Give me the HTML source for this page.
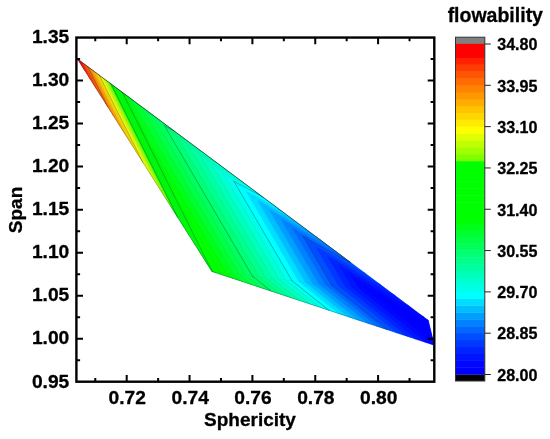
<!DOCTYPE html>
<html><head><meta charset="utf-8"><title>flowability contour</title>
<style>html,body{margin:0;padding:0;background:#fff}svg{display:block}</style></head>
<body><svg width="550" height="439" viewBox="0 0 550 439">
<rect width="550" height="439" fill="#fff"/>
<g><polygon points="77.50,59.00 127.90,96.50 428.30,320.40 434.40,345.30 211.90,271.40" fill="#0060ff"/>
<polygon points="151.23,145.08 127.90,96.50 126.31,95.31" fill="#00ff17" stroke="#00ff17" stroke-width="0.5"/>
<polygon points="179.57,204.08 151.23,145.08 126.31,95.31 124.37,93.87" fill="#00ff00" stroke="#00ff00" stroke-width="0.5"/>
<polygon points="207.90,263.07 179.57,204.08 124.37,93.87 122.44,92.43" fill="#00ff00" stroke="#00ff00" stroke-width="0.5"/>
<polygon points="206.90,263.50 211.90,271.40 207.90,263.07 122.44,92.43 120.50,91.00" fill="#00ff00" stroke="#00ff00" stroke-width="0.5"/>
<polygon points="201.08,254.30 206.90,263.50 120.50,91.00 118.57,89.56" fill="#00ff00" stroke="#00ff00" stroke-width="0.5"/>
<polygon points="195.25,245.09 201.08,254.30 118.57,89.56 116.63,88.12" fill="#00ff00" stroke="#00ff00" stroke-width="0.5"/>
<polygon points="189.43,235.89 195.25,245.09 116.63,88.12 114.70,86.68" fill="#00ff00" stroke="#00ff00" stroke-width="0.5"/>
<polygon points="183.61,226.69 189.43,235.89 114.70,86.68 112.76,85.24" fill="#00ff00" stroke="#00ff00" stroke-width="0.5"/>
<polygon points="177.79,217.49 183.61,226.69 112.76,85.24 110.83,83.80" fill="#00ff00" stroke="#00ff00" stroke-width="0.5"/>
<polygon points="171.96,208.29 177.79,217.49 110.83,83.80 108.89,82.36" fill="#00ff00" stroke="#00ff00" stroke-width="0.5"/>
<polygon points="166.14,199.08 171.96,208.29 108.89,82.36 106.96,80.92" fill="#80ff00" stroke="#80ff00" stroke-width="0.5"/>
<polygon points="160.32,189.88 166.14,199.08 106.96,80.92 105.02,79.48" fill="#a0ff00" stroke="#a0ff00" stroke-width="0.5"/>
<polygon points="154.50,180.68 160.32,189.88 105.02,79.48 103.09,78.04" fill="#c0ff00" stroke="#c0ff00" stroke-width="0.5"/>
<polygon points="148.67,171.48 154.50,180.68 103.09,78.04 101.15,76.60" fill="#e0ff00" stroke="#e0ff00" stroke-width="0.5"/>
<polygon points="142.85,162.28 148.67,171.48 101.15,76.60 99.22,75.16" fill="#ffff00" stroke="#ffff00" stroke-width="0.5"/>
<polygon points="137.03,153.08 142.85,162.28 99.22,75.16 97.28,73.72" fill="#ffeb00" stroke="#ffeb00" stroke-width="0.5"/>
<polygon points="131.21,143.87 137.03,153.08 97.28,73.72 95.35,72.28" fill="#ffd700" stroke="#ffd700" stroke-width="0.5"/>
<polygon points="125.38,134.67 131.21,143.87 95.35,72.28 93.41,70.84" fill="#ffc300" stroke="#ffc300" stroke-width="0.5"/>
<polygon points="119.56,125.47 125.38,134.67 93.41,70.84 91.48,69.40" fill="#ffae00" stroke="#ffae00" stroke-width="0.5"/>
<polygon points="113.74,116.27 119.56,125.47 91.48,69.40 89.54,67.96" fill="#ff9800" stroke="#ff9800" stroke-width="0.5"/>
<polygon points="107.91,107.07 113.74,116.27 89.54,67.96 87.61,66.52" fill="#ff8200" stroke="#ff8200" stroke-width="0.5"/>
<polygon points="102.09,97.86 107.91,107.07 87.61,66.52 85.67,65.08" fill="#ff6c00" stroke="#ff6c00" stroke-width="0.5"/>
<polygon points="96.27,88.66 102.09,97.86 85.67,65.08 83.74,63.64" fill="#ff5500" stroke="#ff5500" stroke-width="0.5"/>
<polygon points="90.45,79.46 96.27,88.66 83.74,63.64 81.80,62.20" fill="#ff3c00" stroke="#ff3c00" stroke-width="0.5"/>
<polygon points="84.62,70.26 90.45,79.46 81.80,62.20 79.87,60.76" fill="#ff2100" stroke="#ff2100" stroke-width="0.5"/>
<polygon points="78.80,61.06 84.62,70.26 79.87,60.76 77.93,59.32" fill="#ff0000" stroke="#ff0000" stroke-width="0.5"/>
<polygon points="77.50,59.00 78.80,61.06 77.93,59.32" fill="#ff0000" stroke="#ff0000" stroke-width="0.5"/>
<polygon points="364.79,289.39 370.00,290.00 360.90,282.72" fill="#0000ff" stroke="#0000ff" stroke-width="0.5"/>
<polygon points="358.19,288.61 364.79,289.39 360.90,282.72 349.35,273.49" fill="#0007ff" stroke="#0007ff" stroke-width="0.5"/>
<polygon points="351.58,287.83 358.19,288.61 349.35,273.49 337.80,264.27" fill="#0014ff" stroke="#0014ff" stroke-width="0.5"/>
<polygon points="344.97,287.06 351.58,287.83 337.80,264.27 326.25,255.04" fill="#0024ff" stroke="#0024ff" stroke-width="0.5"/>
<polygon points="338.36,286.28 344.97,287.06 326.25,255.04 314.71,245.81" fill="#0038ff" stroke="#0038ff" stroke-width="0.5"/>
<polygon points="331.76,285.50 338.36,286.28 314.71,245.81 303.16,236.58" fill="#004eff" stroke="#004eff" stroke-width="0.5"/>
<polygon points="325.15,284.72 331.76,285.50 303.16,236.58 291.61,227.35" fill="#0067ff" stroke="#0067ff" stroke-width="0.5"/>
<polygon points="318.54,283.95 325.15,284.72 291.61,227.35 280.06,218.12" fill="#0081ff" stroke="#0081ff" stroke-width="0.5"/>
<polygon points="311.94,283.17 318.54,283.95 280.06,218.12 268.51,208.89" fill="#009eff" stroke="#009eff" stroke-width="0.5"/>
<polygon points="305.33,282.39 311.94,283.17 268.51,208.89 256.97,199.66" fill="#00bdff" stroke="#00bdff" stroke-width="0.5"/>
<polygon points="298.72,281.61 305.33,282.39 256.97,199.66 245.42,190.43" fill="#00ddff" stroke="#00ddff" stroke-width="0.5"/>
<polygon points="292.12,280.84 298.72,281.61 245.42,190.43 233.87,181.20" fill="#00ffff" stroke="#00ffff" stroke-width="0.5"/>
<polygon points="285.51,280.06 292.12,280.84 233.87,181.20 222.32,171.97" fill="#00ffe8" stroke="#00ffe8" stroke-width="0.5"/>
<polygon points="278.90,279.28 285.51,280.06 222.32,171.97 210.77,162.74" fill="#00ffd1" stroke="#00ffd1" stroke-width="0.5"/>
<polygon points="272.30,278.51 278.90,279.28 210.77,162.74 199.23,153.51" fill="#00ffb9" stroke="#00ffb9" stroke-width="0.5"/>
<polygon points="265.69,277.73 272.30,278.51 199.23,153.51 187.68,144.28" fill="#00ffa2" stroke="#00ffa2" stroke-width="0.5"/>
<polygon points="259.08,276.95 265.69,277.73 187.68,144.28 176.13,135.05" fill="#00ff8b" stroke="#00ff8b" stroke-width="0.5"/>
<polygon points="252.47,276.17 259.08,276.95 176.13,135.05 164.58,125.82" fill="#00ff74" stroke="#00ff74" stroke-width="0.5"/>
<polygon points="245.87,275.40 252.47,276.17 164.58,125.82 153.03,116.59" fill="#00ff5d" stroke="#00ff5d" stroke-width="0.5"/>
<polygon points="239.26,274.62 245.87,275.40 153.03,116.59 141.49,107.36" fill="#00ff46" stroke="#00ff46" stroke-width="0.5"/>
<polygon points="232.65,273.84 239.26,274.62 141.49,107.36 129.94,98.13" fill="#00ff2e" stroke="#00ff2e" stroke-width="0.5"/>
<polygon points="127.90,96.50 151.23,145.08 226.05,273.06 232.65,273.84 129.94,98.13" fill="#00ff17" stroke="#00ff17" stroke-width="0.5"/>
<polygon points="151.23,145.08 179.57,204.08 219.44,272.29 226.05,273.06" fill="#00ff00" stroke="#00ff00" stroke-width="0.5"/>
<polygon points="179.57,204.08 207.90,263.07 212.83,271.51 219.44,272.29" fill="#00ff00" stroke="#00ff00" stroke-width="0.5"/>
<polygon points="207.90,263.07 211.90,271.40 212.83,271.51" fill="#00ff00" stroke="#00ff00" stroke-width="0.5"/>
<polygon points="360.90,282.72 370.00,290.00 428.30,320.40 423.98,317.18" fill="#0000ff" stroke="#0000ff" stroke-width="0.5"/>
<polygon points="349.35,273.49 360.90,282.72 423.98,317.18 409.31,306.25" fill="#0007ff" stroke="#0007ff" stroke-width="0.5"/>
<polygon points="337.80,264.27 349.35,273.49 409.31,306.25 394.63,295.31" fill="#0014ff" stroke="#0014ff" stroke-width="0.5"/>
<polygon points="326.25,255.04 337.80,264.27 394.63,295.31 379.96,284.37" fill="#0024ff" stroke="#0024ff" stroke-width="0.5"/>
<polygon points="314.71,245.81 326.25,255.04 379.96,284.37 365.29,273.43" fill="#0038ff" stroke="#0038ff" stroke-width="0.5"/>
<polygon points="303.16,236.58 314.71,245.81 365.29,273.43 350.61,262.49" fill="#004eff" stroke="#004eff" stroke-width="0.5"/>
<polygon points="291.61,227.35 303.16,236.58 350.61,262.49 335.94,251.56" fill="#0067ff" stroke="#0067ff" stroke-width="0.5"/>
<polygon points="280.06,218.12 291.61,227.35 335.94,251.56 321.26,240.62" fill="#0081ff" stroke="#0081ff" stroke-width="0.5"/>
<polygon points="268.51,208.89 280.06,218.12 321.26,240.62 306.59,229.68" fill="#009eff" stroke="#009eff" stroke-width="0.5"/>
<polygon points="256.97,199.66 268.51,208.89 306.59,229.68 291.91,218.74" fill="#00bdff" stroke="#00bdff" stroke-width="0.5"/>
<polygon points="245.42,190.43 256.97,199.66 291.91,218.74 277.24,207.81" fill="#00ddff" stroke="#00ddff" stroke-width="0.5"/>
<polygon points="233.87,181.20 245.42,190.43 277.24,207.81 262.56,196.87" fill="#00ffff" stroke="#00ffff" stroke-width="0.5"/>
<polygon points="222.32,171.97 233.87,181.20 262.56,196.87 247.89,185.93" fill="#00ffe8" stroke="#00ffe8" stroke-width="0.5"/>
<polygon points="210.77,162.74 222.32,171.97 247.89,185.93 233.21,174.99" fill="#00ffd1" stroke="#00ffd1" stroke-width="0.5"/>
<polygon points="199.23,153.51 210.77,162.74 233.21,174.99 218.54,164.06" fill="#00ffb9" stroke="#00ffb9" stroke-width="0.5"/>
<polygon points="187.68,144.28 199.23,153.51 218.54,164.06 203.86,153.12" fill="#00ffa2" stroke="#00ffa2" stroke-width="0.5"/>
<polygon points="176.13,135.05 187.68,144.28 203.86,153.12 189.19,142.18" fill="#00ff8b" stroke="#00ff8b" stroke-width="0.5"/>
<polygon points="164.58,125.82 176.13,135.05 189.19,142.18 174.51,131.24" fill="#00ff74" stroke="#00ff74" stroke-width="0.5"/>
<polygon points="153.03,116.59 164.58,125.82 174.51,131.24 159.84,120.31" fill="#00ff5d" stroke="#00ff5d" stroke-width="0.5"/>
<polygon points="141.49,107.36 153.03,116.59 159.84,120.31 145.16,109.37" fill="#00ff46" stroke="#00ff46" stroke-width="0.5"/>
<polygon points="129.94,98.13 141.49,107.36 145.16,109.37 130.49,98.43" fill="#00ff2e" stroke="#00ff2e" stroke-width="0.5"/>
<polygon points="127.90,96.50 129.94,98.13 130.49,98.43" fill="#00ff17" stroke="#00ff17" stroke-width="0.5"/>
<polygon points="429.93,341.46 370.00,290.00 364.79,289.39" fill="#0000ff" stroke="#0000ff" stroke-width="0.5"/>
<polygon points="425.33,342.29 434.40,345.30 429.93,341.46 364.79,289.39 358.19,288.61" fill="#0007ff" stroke="#0007ff" stroke-width="0.5"/>
<polygon points="415.69,339.09 425.33,342.29 358.19,288.61 351.58,287.83" fill="#0014ff" stroke="#0014ff" stroke-width="0.5"/>
<polygon points="406.05,335.88 415.69,339.09 351.58,287.83 344.97,287.06" fill="#0024ff" stroke="#0024ff" stroke-width="0.5"/>
<polygon points="396.41,332.68 406.05,335.88 344.97,287.06 338.36,286.28" fill="#0038ff" stroke="#0038ff" stroke-width="0.5"/>
<polygon points="386.77,329.48 396.41,332.68 338.36,286.28 331.76,285.50" fill="#004eff" stroke="#004eff" stroke-width="0.5"/>
<polygon points="377.13,326.28 386.77,329.48 331.76,285.50 325.15,284.72" fill="#0067ff" stroke="#0067ff" stroke-width="0.5"/>
<polygon points="367.49,323.08 377.13,326.28 325.15,284.72 318.54,283.95" fill="#0081ff" stroke="#0081ff" stroke-width="0.5"/>
<polygon points="357.85,319.88 367.49,323.08 318.54,283.95 311.94,283.17" fill="#009eff" stroke="#009eff" stroke-width="0.5"/>
<polygon points="348.21,316.67 357.85,319.88 311.94,283.17 305.33,282.39" fill="#00bdff" stroke="#00bdff" stroke-width="0.5"/>
<polygon points="338.57,313.47 348.21,316.67 305.33,282.39 298.72,281.61" fill="#00ddff" stroke="#00ddff" stroke-width="0.5"/>
<polygon points="328.93,310.27 338.57,313.47 298.72,281.61 292.12,280.84" fill="#00ffff" stroke="#00ffff" stroke-width="0.5"/>
<polygon points="319.29,307.07 328.93,310.27 292.12,280.84 285.51,280.06" fill="#00ffe8" stroke="#00ffe8" stroke-width="0.5"/>
<polygon points="309.65,303.87 319.29,307.07 285.51,280.06 278.90,279.28" fill="#00ffd1" stroke="#00ffd1" stroke-width="0.5"/>
<polygon points="300.02,300.67 309.65,303.87 278.90,279.28 272.30,278.51" fill="#00ffb9" stroke="#00ffb9" stroke-width="0.5"/>
<polygon points="290.38,297.46 300.02,300.67 272.30,278.51 265.69,277.73" fill="#00ffa2" stroke="#00ffa2" stroke-width="0.5"/>
<polygon points="280.74,294.26 290.38,297.46 265.69,277.73 259.08,276.95" fill="#00ff8b" stroke="#00ff8b" stroke-width="0.5"/>
<polygon points="271.10,291.06 280.74,294.26 259.08,276.95 252.47,276.17" fill="#00ff74" stroke="#00ff74" stroke-width="0.5"/>
<polygon points="261.46,287.86 271.10,291.06 252.47,276.17 245.87,275.40" fill="#00ff5d" stroke="#00ff5d" stroke-width="0.5"/>
<polygon points="251.82,284.66 261.46,287.86 245.87,275.40 239.26,274.62" fill="#00ff46" stroke="#00ff46" stroke-width="0.5"/>
<polygon points="242.18,281.46 251.82,284.66 239.26,274.62 232.65,273.84" fill="#00ff2e" stroke="#00ff2e" stroke-width="0.5"/>
<polygon points="232.54,278.26 242.18,281.46 232.65,273.84 226.05,273.06" fill="#00ff17" stroke="#00ff17" stroke-width="0.5"/>
<polygon points="222.90,275.05 232.54,278.26 226.05,273.06 219.44,272.29" fill="#00ff00" stroke="#00ff00" stroke-width="0.5"/>
<polygon points="213.26,271.85 222.90,275.05 219.44,272.29 212.83,271.51" fill="#00ff00" stroke="#00ff00" stroke-width="0.5"/>
<polygon points="211.90,271.40 213.26,271.85 212.83,271.51" fill="#00ff00" stroke="#00ff00" stroke-width="0.5"/>
<polygon points="370.00,290.00 429.93,341.46 433.38,341.15 428.30,320.40" fill="#0000ff" stroke="#0000ff" stroke-width="0.5"/>
<polygon points="429.93,341.46 434.40,345.30 433.38,341.15" fill="#0007ff" stroke="#0007ff" stroke-width="0.5"/>
<path d="M331.76 285.50L303.16 236.58M303.16 236.58L350.61 262.49M386.77 329.48L331.76 285.50M292.12 280.84L233.87 181.20M233.87 181.20L262.56 196.87M328.93 310.27L292.12 280.84M252.47 276.17L164.58 125.82M164.58 125.82L174.51 131.24M271.10 291.06L252.47 276.17M207.90 263.07L122.44 92.43M207.90 263.07L212.83 271.51M213.26 271.85L212.83 271.51M177.79 217.49L110.83 83.80M142.85 162.28L99.22 75.16M107.91 107.07L87.61 66.52" fill="none" stroke="#102030" stroke-opacity="0.5" stroke-width="0.55" stroke-linecap="round"/>
<path d="M77.50 59.00L211.90 271.40L386.77 329.48" fill="none" stroke="#102030" stroke-opacity="0.4" stroke-width="0.6" stroke-linejoin="round"/>
<path d="M350.61 262.49L127.90 96.50L77.50 59.00" fill="none" stroke="#202428" stroke-opacity="0.75" stroke-width="0.9" stroke-linejoin="round"/></g>
<rect x="76.40" y="37.55" width="357.90" height="344.15" fill="none" stroke="#000" stroke-width="2.4"/>
<path d="M76.40 360.19h3.70M434.30 360.19h-3.70M76.40 338.68h6.60M434.30 338.68h-6.60M76.40 317.17h3.70M434.30 317.17h-3.70M76.40 295.66h6.60M434.30 295.66h-6.60M76.40 274.15h3.70M434.30 274.15h-3.70M76.40 252.64h6.60M434.30 252.64h-6.60M76.40 231.13h3.70M434.30 231.13h-3.70M76.40 209.63h6.60M434.30 209.63h-6.60M76.40 188.12h3.70M434.30 188.12h-3.70M76.40 166.61h6.60M434.30 166.61h-6.60M76.40 145.10h3.70M434.30 145.10h-3.70M76.40 123.59h6.60M434.30 123.59h-6.60M76.40 102.08h3.70M434.30 102.08h-3.70M76.40 80.57h6.60M434.30 80.57h-6.60M76.40 59.06h3.70M434.30 59.06h-3.70M95.27 37.55v3.70M95.27 381.70v-3.70M126.70 37.55v6.60M126.70 381.70v-6.60M158.13 37.55v3.70M158.13 381.70v-3.70M189.55 37.55v6.60M189.55 381.70v-6.60M220.98 37.55v3.70M220.98 381.70v-3.70M252.40 37.55v6.60M252.40 381.70v-6.60M283.83 37.55v3.70M283.83 381.70v-3.70M315.25 37.55v6.60M315.25 381.70v-6.60M346.67 37.55v3.70M346.67 381.70v-3.70M378.10 37.55v6.60M378.10 381.70v-6.60M409.52 37.55v3.70M409.52 381.70v-3.70" stroke="#000" stroke-width="2" fill="none"/>
<rect x="455.50" y="37.2" width="29.30" height="6.80" fill="#808080"/>
<rect x="455.50" y="374.50" width="29.30" height="6.50" fill="#000"/>
<rect x="455.50" y="367.41" width="29.30" height="7.29" fill="#0000ff"/>
<rect x="455.50" y="360.53" width="29.30" height="7.29" fill="#0007ff"/>
<rect x="455.50" y="353.64" width="29.30" height="7.29" fill="#0014ff"/>
<rect x="455.50" y="346.76" width="29.30" height="7.29" fill="#0024ff"/>
<rect x="455.50" y="339.87" width="29.30" height="7.29" fill="#0038ff"/>
<rect x="455.50" y="332.99" width="29.30" height="7.29" fill="#004eff"/>
<rect x="455.50" y="326.10" width="29.30" height="7.29" fill="#0067ff"/>
<rect x="455.50" y="319.22" width="29.30" height="7.29" fill="#0081ff"/>
<rect x="455.50" y="312.33" width="29.30" height="7.29" fill="#009eff"/>
<rect x="455.50" y="305.45" width="29.30" height="7.29" fill="#00bdff"/>
<rect x="455.50" y="298.56" width="29.30" height="7.29" fill="#00ddff"/>
<rect x="455.50" y="291.67" width="29.30" height="7.29" fill="#00ffff"/>
<rect x="455.50" y="284.79" width="29.30" height="7.29" fill="#00ffe8"/>
<rect x="455.50" y="277.90" width="29.30" height="7.29" fill="#00ffd1"/>
<rect x="455.50" y="271.02" width="29.30" height="7.29" fill="#00ffb9"/>
<rect x="455.50" y="264.13" width="29.30" height="7.29" fill="#00ffa2"/>
<rect x="455.50" y="257.25" width="29.30" height="7.29" fill="#00ff8b"/>
<rect x="455.50" y="250.36" width="29.30" height="7.29" fill="#00ff74"/>
<rect x="455.50" y="243.48" width="29.30" height="7.29" fill="#00ff5d"/>
<rect x="455.50" y="236.59" width="29.30" height="7.29" fill="#00ff46"/>
<rect x="455.50" y="229.71" width="29.30" height="7.29" fill="#00ff2e"/>
<rect x="455.50" y="222.82" width="29.30" height="7.29" fill="#00ff17"/>
<rect x="455.50" y="215.94" width="29.30" height="7.29" fill="#00ff00"/>
<rect x="455.50" y="209.05" width="29.30" height="7.29" fill="#00ff00"/>
<rect x="455.50" y="202.16" width="29.30" height="7.29" fill="#00ff00"/>
<rect x="455.50" y="195.28" width="29.30" height="7.29" fill="#00ff00"/>
<rect x="455.50" y="188.39" width="29.30" height="7.29" fill="#00ff00"/>
<rect x="455.50" y="181.51" width="29.30" height="7.29" fill="#00ff00"/>
<rect x="455.50" y="174.62" width="29.30" height="7.29" fill="#00ff00"/>
<rect x="455.50" y="167.74" width="29.30" height="7.29" fill="#00ff00"/>
<rect x="455.50" y="160.85" width="29.30" height="7.29" fill="#00ff00"/>
<rect x="455.50" y="153.97" width="29.30" height="7.29" fill="#80ff00"/>
<rect x="455.50" y="147.08" width="29.30" height="7.29" fill="#a0ff00"/>
<rect x="455.50" y="140.20" width="29.30" height="7.29" fill="#c0ff00"/>
<rect x="455.50" y="133.31" width="29.30" height="7.29" fill="#e0ff00"/>
<rect x="455.50" y="126.42" width="29.30" height="7.29" fill="#ffff00"/>
<rect x="455.50" y="119.54" width="29.30" height="7.29" fill="#ffeb00"/>
<rect x="455.50" y="112.65" width="29.30" height="7.29" fill="#ffd700"/>
<rect x="455.50" y="105.77" width="29.30" height="7.29" fill="#ffc300"/>
<rect x="455.50" y="98.88" width="29.30" height="7.29" fill="#ffae00"/>
<rect x="455.50" y="92.00" width="29.30" height="7.29" fill="#ff9800"/>
<rect x="455.50" y="85.11" width="29.30" height="7.29" fill="#ff8200"/>
<rect x="455.50" y="78.23" width="29.30" height="7.29" fill="#ff6c00"/>
<rect x="455.50" y="71.34" width="29.30" height="7.29" fill="#ff5500"/>
<rect x="455.50" y="64.46" width="29.30" height="7.29" fill="#ff3c00"/>
<rect x="455.50" y="57.57" width="29.30" height="7.29" fill="#ff2100"/>
<rect x="455.50" y="50.69" width="29.30" height="7.29" fill="#ff0000"/>
<rect x="455.50" y="43.80" width="29.30" height="7.29" fill="#ff0000"/>
<rect x="455.50" y="37.2" width="29.30" height="343.80" fill="none" stroke="#333" stroke-width="1"/>
<path d="M484.80 374.50h6M484.80 333.19h6M484.80 291.88h6M484.80 250.56h6M484.80 209.25h6M484.80 167.94h6M484.80 126.62h6M484.80 85.31h6M484.80 44.00h6" stroke="#222" stroke-width="1" fill="none"/>
<g font-family="'Liberation Sans', Arial, sans-serif" font-weight="bold" fill="#000" stroke="#000" stroke-width="0.3" stroke-linejoin="round"><text x="69.3" y="387.50" text-anchor="end" font-size="19.2">0.95</text>
<text x="69.3" y="344.48" text-anchor="end" font-size="19.2">1.00</text>
<text x="69.3" y="301.46" text-anchor="end" font-size="19.2">1.05</text>
<text x="69.3" y="258.44" text-anchor="end" font-size="19.2">1.10</text>
<text x="69.3" y="215.43" text-anchor="end" font-size="19.2">1.15</text>
<text x="69.3" y="172.41" text-anchor="end" font-size="19.2">1.20</text>
<text x="69.3" y="129.39" text-anchor="end" font-size="19.2">1.25</text>
<text x="69.3" y="86.37" text-anchor="end" font-size="19.2">1.30</text>
<text x="69.3" y="43.35" text-anchor="end" font-size="19.2">1.35</text>
<text x="127.30" y="403.8" text-anchor="middle" font-size="19.2">0.72</text>
<text x="190.15" y="403.8" text-anchor="middle" font-size="19.2">0.74</text>
<text x="253.00" y="403.8" text-anchor="middle" font-size="19.2">0.76</text>
<text x="315.85" y="403.8" text-anchor="middle" font-size="19.2">0.78</text>
<text x="378.70" y="403.8" text-anchor="middle" font-size="19.2">0.80</text>
<text x="250" y="426.2" text-anchor="middle" font-size="19">Sphericity</text>
<text transform="translate(22.4 210) rotate(-90)" text-anchor="middle" font-size="19">Span</text>
<text x="495.3" y="21.6" text-anchor="middle" font-size="19.5">flowability</text>
<text x="497.2" y="380.80" font-size="16.1">28.00</text>
<text x="497.2" y="339.49" font-size="16.1">28.85</text>
<text x="497.2" y="298.18" font-size="16.1">29.70</text>
<text x="497.2" y="256.86" font-size="16.1">30.55</text>
<text x="497.2" y="215.55" font-size="16.1">31.40</text>
<text x="497.2" y="174.24" font-size="16.1">32.25</text>
<text x="497.2" y="132.93" font-size="16.1">33.10</text>
<text x="497.2" y="91.61" font-size="16.1">33.95</text>
<text x="497.2" y="50.30" font-size="16.1">34.80</text></g>
</svg></body></html>
